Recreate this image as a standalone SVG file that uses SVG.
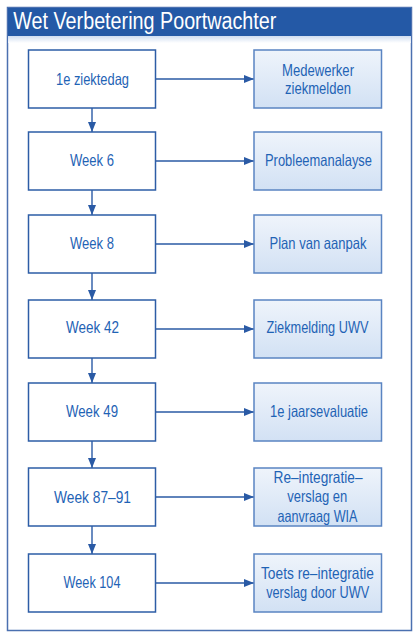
<svg xmlns="http://www.w3.org/2000/svg" width="418" height="633" viewBox="0 0 418 633">
<defs>
<linearGradient id="rg" x1="0" y1="0" x2="0" y2="1">
<stop offset="0" stop-color="#EFF4FB"/>
<stop offset="1" stop-color="#D2E1F4"/>
</linearGradient>
<linearGradient id="band" x1="0" y1="0" x2="0" y2="1">
<stop offset="0" stop-color="#CFDDF1"/>
<stop offset="1" stop-color="#FFFFFF"/>
</linearGradient>
<marker id="ah" markerUnits="userSpaceOnUse" markerWidth="10" markerHeight="10" viewBox="0 0 10 10" refX="10" refY="5" orient="auto">
<path d="M0,1 L10,5 L0,9 Z" fill="#2A5AA5"/>
</marker>
<style>
.lb{fill:#FFFFFF;stroke:#2D5DA6;stroke-width:1.5}
.rb{fill:url(#rg);stroke:#5A84C2;stroke-width:1.5}
.t{font-family:"Liberation Sans",Arial,sans-serif;font-size:16.5px;fill:#1F63B5;text-anchor:middle}
.c{fill:none;stroke:#2A5AA5;stroke-width:1.4;marker-end:url(#ah)}
</style>
</defs>
<g id="frame">
<rect x="7.5" y="7.5" width="404" height="623" fill="#FFFFFF" stroke="#4B70B0" stroke-width="1.5"/>
<rect x="8.25" y="36" width="402.5" height="7" fill="url(#band)"/>
<rect x="8" y="8" width="403" height="28" fill="#2459A6"/>
<text x="13.3" y="29.3" textLength="263" lengthAdjust="spacingAndGlyphs" font-family="Liberation Sans, Arial, sans-serif" font-size="23" fill="#FFFFFF">Wet Verbetering Poortwachter</text>
</g>
<g id="connectors">
<line class="c" x1="155.5" y1="79" x2="254" y2="79"/>
<line class="c" x1="155.5" y1="161" x2="254" y2="161"/>
<line class="c" x1="155.5" y1="244" x2="254" y2="244"/>
<line class="c" x1="155.5" y1="329" x2="254" y2="329"/>
<line class="c" x1="155.5" y1="412" x2="254" y2="412"/>
<line class="c" x1="155.5" y1="497" x2="254" y2="497"/>
<line class="c" x1="155.5" y1="583" x2="254" y2="583"/>
<line class="c" x1="92" y1="108" x2="92" y2="132"/>
<line class="c" x1="92" y1="190" x2="92" y2="215"/>
<line class="c" x1="92" y1="273" x2="92" y2="300"/>
<line class="c" x1="92" y1="358" x2="92" y2="383"/>
<line class="c" x1="92" y1="441" x2="92" y2="468"/>
<line class="c" x1="92" y1="526" x2="92" y2="554"/>
</g>
<g id="n1"><rect class="lb" x="28.5" y="50" width="127" height="58"/><text class="t" x="92.5" y="85" textLength="73" lengthAdjust="spacingAndGlyphs">1e ziektedag</text></g>
<g id="n2"><rect class="lb" x="28.5" y="132" width="127" height="58"/><text class="t" x="92" y="165.5" textLength="44" lengthAdjust="spacingAndGlyphs">Week 6</text></g>
<g id="n3"><rect class="lb" x="28.5" y="215" width="127" height="58"/><text class="t" x="92" y="248.5" textLength="44" lengthAdjust="spacingAndGlyphs">Week 8</text></g>
<g id="n4"><rect class="lb" x="28.5" y="300" width="127" height="58"/><text class="t" x="92.5" y="333" textLength="53" lengthAdjust="spacingAndGlyphs">Week 42</text></g>
<g id="n5"><rect class="lb" x="28.5" y="383" width="127" height="58"/><text class="t" x="92" y="416.7" textLength="52" lengthAdjust="spacingAndGlyphs">Week 49</text></g>
<g id="n6"><rect class="lb" x="28.5" y="468" width="127" height="58"/><text class="t" x="92.5" y="503.3" textLength="77" lengthAdjust="spacingAndGlyphs">Week 87–91</text></g>
<g id="n7"><rect class="lb" x="28.5" y="554" width="127" height="58"/><text class="t" x="92" y="588.3" textLength="57" lengthAdjust="spacingAndGlyphs">Week 104</text></g>
<g id="r1"><rect class="rb" x="254" y="50" width="127.5" height="58"/><text class="t" x="318" y="75.7" textLength="72" lengthAdjust="spacingAndGlyphs">Medewerker</text><text class="t" x="318" y="94" textLength="66" lengthAdjust="spacingAndGlyphs">ziekmelden</text></g>
<g id="r2"><rect class="rb" x="254" y="132" width="127.5" height="58"/><text class="t" x="318.5" y="166" textLength="107" lengthAdjust="spacingAndGlyphs">Probleemanalayse</text></g>
<g id="r3"><rect class="rb" x="254" y="215" width="127.5" height="58"/><text class="t" x="318" y="249.3" textLength="97" lengthAdjust="spacingAndGlyphs">Plan van aanpak</text></g>
<g id="r4"><rect class="rb" x="254" y="300" width="127.5" height="58"/><text class="t" x="317.5" y="332.7" textLength="102" lengthAdjust="spacingAndGlyphs">Ziekmelding UWV</text></g>
<g id="r5"><rect class="rb" x="254" y="383" width="127.5" height="58"/><text class="t" x="319" y="416.7" textLength="98" lengthAdjust="spacingAndGlyphs">1e jaarsevaluatie</text></g>
<g id="r6"><rect class="rb" x="254" y="468" width="127.5" height="58"/><text class="t" x="318" y="483.3" textLength="89" lengthAdjust="spacingAndGlyphs">Re–integratie–</text><text class="t" x="317.3" y="502.3" textLength="60" lengthAdjust="spacingAndGlyphs">verslag en</text><text class="t" x="317.5" y="521.5" textLength="80" lengthAdjust="spacingAndGlyphs">aanvraag WIA</text></g>
<g id="r7"><rect class="rb" x="254" y="554" width="127.5" height="58"/><text class="t" x="317.5" y="579.3" textLength="113" lengthAdjust="spacingAndGlyphs">Toets re–integratie</text><text class="t" x="317.7" y="598.3" textLength="103" lengthAdjust="spacingAndGlyphs">verslag door UWV</text></g>
</svg>
